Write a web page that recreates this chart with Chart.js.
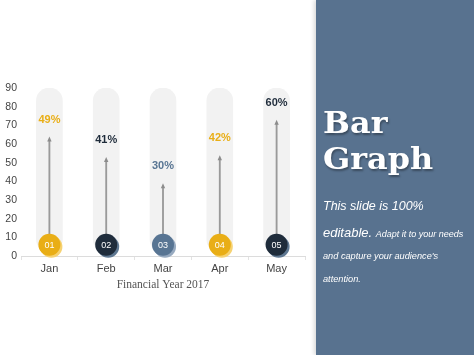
<!DOCTYPE html>
<html>
<head>
<meta charset="utf-8">
<script src="https://cdn.jsdelivr.net/npm/chart.js@4.4.1/dist/chart.umd.min.js"></script>
<style>
  html, body { margin: 0; padding: 0; background: #fff; }
  body { width: 474px; height: 355px; position: relative; overflow: hidden; }
  #wrap { position: absolute; left: 0; top: 0; width: 316px; height: 355px; }
  #panel {
    position: absolute; left: 316px; top: 0; width: 158px; height: 355px;
    background: #58728f; box-shadow: -2px 0 4px rgba(0,0,0,0.15);
    color: #fff; font-family: "Liberation Sans", Arial, sans-serif; font-style: italic;
  }
  #panel h1 {
    position: absolute; left: 7px; top: 105px; margin: 0;
    font: bold 29px/36px "DejaVu Serif", serif; font-style: normal;
    transform: scaleX(1.1); transform-origin: left top;
    text-shadow: 1px 2px 2px rgba(0,0,0,0.35);
  }
  #panel .l { position: absolute; left: 7px; white-space: nowrap; }
</style>
</head>
<body>
<div id="wrap"><canvas id="chart" width="316" height="355"></canvas></div>
<div id="panel">
  <h1>Bar<br>Graph</h1>
  <div class="l" style="top:199px;font-size:12.5px">This slide is 100%</div>
  <div class="l" style="top:225px;font-size:13px">editable. <span style="font-size:9px">Adapt it to your needs</span></div>
  <div class="l" style="top:251px;font-size:9.2px">and capture your audience's</div>
  <div class="l" style="top:274px;font-size:9.2px">attention.</div>
</div>
<script>
// data
const months    = ["Jan", "Feb", "Mar", "Apr", "May"];
const arrowTops = [64, 53, 39, 54, 73];
const percents  = ["49%", "41%", "30%", "42%", "60%"];
const badges    = ["01", "02", "03", "04", "05"];
const pillTop   = 90;
const badgeLevel = 6;

const yTicks = [0, 10, 20, 30, 40, 50, 60, 70, 80, 90];

// colours per month
const YELLOW = "#e9ae16", NAVY = "#1f2c3b", SLATE = "#587593";
const fills   = [YELLOW, NAVY, SLATE, YELLOW, NAVY];
const shadows = ["#f6d272", "#5f7892", "#97aac0", "#f6d272", "#5f7892"];

const decoPlugin = {
  id: "deco",
  beforeDatasetDraw(chart, args) {
    if (args.index !== 2) return;
    const ctx = chart.ctx;
    const meta = chart.getDatasetMeta(2);
    ctx.save();
    meta.data.forEach((pt, i) => {
      ctx.beginPath();
      ctx.arc(pt.x + 2, pt.y + 2, 11, 0, Math.PI * 2);
      ctx.fillStyle = shadows[i];
      ctx.fill();
    });
    ctx.restore();
  },
  afterDatasetsDraw(chart) {
    const ctx = chart.ctx;
    const y = chart.scales.y;
    const arrows = chart.getDatasetMeta(1);
    const dots = chart.getDatasetMeta(2);
    ctx.save();
    arrows.data.forEach((bar, i) => {
      const top = y.getPixelForValue(arrowTops[i]);
      // arrow head
      ctx.beginPath();
      ctx.moveTo(bar.x, top);
      ctx.lineTo(bar.x - 2.2, top + 5);
      ctx.lineTo(bar.x + 2.2, top + 5);
      ctx.closePath();
      ctx.fillStyle = "#8c8c8c";
      ctx.fill();
      // percentage label
      ctx.font = "bold 11px 'Liberation Sans', Arial, sans-serif";
      ctx.textAlign = "center";
      ctx.textBaseline = "middle";
      ctx.fillStyle = fills[i];
      ctx.fillText(percents[i], bar.x, top - 17);
    });
    dots.data.forEach((pt, i) => {
      ctx.font = "9px 'Liberation Sans', Arial, sans-serif";
      ctx.textAlign = "center";
      ctx.textBaseline = "middle";
      ctx.fillStyle = "#fff";
      ctx.fillText(badges[i], pt.x, pt.y + 1);
    });
    ctx.restore();
  }
};

new Chart(document.getElementById("chart"), {
  type: "bar",
  data: {
    labels: months,
    datasets: [
      {
        data: months.map(() => [2, pillTop]),
        backgroundColor: "#f2f2f2",
        barThickness: 26,
        borderRadius: 13,
        borderSkipped: false,
        grouped: false,
        order: 3
      },
      {
        data: arrowTops.map(v => [badgeLevel, v - 2]),
        backgroundColor: "#9a9a9a",
        barThickness: 1.2,
        grouped: false,
        order: 2
      },
      {
        type: "line",
        data: months.map(() => badgeLevel),
        showLine: false,
        pointRadius: 11,
        pointHoverRadius: 11,
        pointBackgroundColor: fills,
        pointBorderWidth: 0,
        order: 1
      }
    ]
  },
  options: {
    responsive: false,
    animation: false,
    events: [],
    layout: { padding: { top: 88, bottom: 63, left: 0, right: 3 } },
    plugins: { legend: { display: false }, tooltip: { enabled: false } },
    scales: {
      x: {
        grid: { display: true, drawOnChartArea: false, tickLength: 4, color: "#e2e2e2", offset: true },
        border: { color: "#dcdcdc" },
        ticks: { padding: 2, color: "#444", font: { family: "'Liberation Sans', Arial, sans-serif", size: 11 } },
        title: {
          display: true, text: "Financial Year 2017", color: "#555",
          padding: { top: 0, bottom: 0 },
          font: { family: "'Liberation Serif', serif", size: 11.5 }
        },
        afterFit(scale) { scale.height = 36; }
      },
      y: {
        min: 0, max: 90,
        grid: { display: false, drawTicks: false, tickLength: 0 },
        border: { display: false },
        afterBuildTicks(scale) { scale.ticks = yTicks.map(v => ({ value: v })); },
        ticks: { padding: 4, color: "#444", font: { family: "'Liberation Sans', Arial, sans-serif", size: 10.5 } },
        afterFit(scale) { scale.width = 21; }
      }
    }
  },
  plugins: [decoPlugin]
});
</script>
</body>
</html>
